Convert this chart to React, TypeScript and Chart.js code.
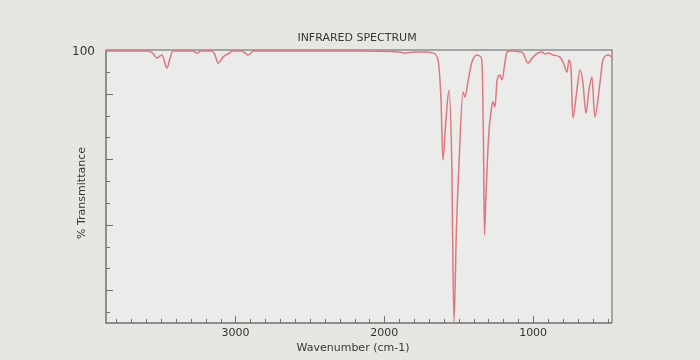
import React, { useEffect, useRef } from "react";
import { Chart, registerables } from "chart.js";

Chart.register(...registerables);

// Spectrum (wavenumber cm-1, % transmittance)
const wavenumbers = [
  3870, 3590, 3560, 3527, 3494, 3460, 3440, 3420, 3285, 3259, 3232, 3160, 3140, 3117, 3084, 3064, 3040, 3023,
  2960, 2935, 2916, 2895, 2882, 2200, 1900, 1860, 1800, 1720, 1673, 1639, 1619, 1606, 1586, 1565, 1547, 1532,
  1515, 1497, 1471, 1458, 1438, 1411, 1377, 1350, 1340, 1333, 1327, 1318, 1310, 1297, 1283, 1270, 1256, 1243,
  1223, 1209, 1189, 1176, 1155, 1135, 1088, 1068, 1035, 1001, 967, 940, 920, 900, 867, 820, 799, 772, 759, 746,
  733, 706, 685, 665, 645, 625, 605, 585, 551, 531, 497, 470,
];
const transmittance = [
  99.6, 99.6, 99.0, 97.1, 98.2, 93.4, 97.0, 99.6, 99.6, 98.9, 99.6, 99.6, 98.5, 95.2, 97.4, 98.2, 98.9, 99.6,
  99.6, 98.9, 98.2, 98.9, 99.6, 99.6, 99.3, 98.9, 99.3, 99.3, 98.9, 96.3, 81.7, 59.7, 74.4, 85.3, 59.7, 0.5,
  35.0, 59.7, 84.6, 82.8, 88.3, 95.6, 98.2, 97.4, 90.0, 63.0, 32.2, 45.0, 56.0, 70.0, 77.3, 81.0, 79.1, 88.3,
  90.8, 89.0, 95.6, 99.3, 99.6, 99.6, 99.3, 98.9, 95.2, 97.4, 98.9, 99.3, 98.5, 98.9, 98.2, 97.4, 95.6, 91.9, 96.3, 93.8,
  75.1, 85.3, 92.7, 87.9, 76.9, 85.3, 90.1, 75.5, 87.9, 96.3, 98.2, 97.4,
];

const xTickLabels = [3000, 2000, 1000];
const xTickMarks = [
  500, 600, 700, 800, 900, 1000, 1100, 1200, 1300, 1400, 1500, 1600, 1700, 1800, 1900, 2000, 2100, 2200,
  2300, 2400, 2500, 2600, 2700, 2800, 2900, 3000, 3100, 3200, 3300, 3400, 3500, 3600, 3700, 3800,
];
const yTickLabels = [100];
const yTickMarks = [4, 12, 20, 28, 36, 44, 52, 60, 68, 76, 84, 92];
const yMajorTicks = [12, 36, 60, 84];

const TITLE = "INFRARED SPECTRUM";
const X_TITLE = "Wavenumber (cm-1)";
const Y_TITLE = "% Transmittance";

const FONT = '"DejaVu Sans", Verdana, sans-serif';

const decorPlugin = {
  id: "decor",
  beforeDraw(chart: any) {
    const { ctx, chartArea: a } = chart;
    ctx.save();
    ctx.fillStyle = "#ebebe9";
    ctx.fillRect(a.left, a.top, a.right - a.left, a.bottom - a.top);
    ctx.restore();
  },
  beforeDatasetsDraw(chart: any) {
    const { ctx, chartArea: a, scales } = chart;
    const xs = scales.x;
    const ys = scales.y;
    ctx.save();
    // frame
    ctx.lineWidth = 1.5;
    ctx.strokeStyle = "#8e8e8e";
    ctx.beginPath();
    ctx.moveTo(a.left, a.top);
    ctx.lineTo(a.right, a.top);
    ctx.lineTo(a.right, a.bottom);
    ctx.stroke();
    ctx.strokeStyle = "#707070";
    ctx.beginPath();
    ctx.moveTo(a.left, a.top);
    ctx.lineTo(a.left, a.bottom);
    ctx.lineTo(a.right, a.bottom);
    ctx.stroke();
    // ticks
    ctx.lineWidth = 1;
    ctx.strokeStyle = "#707070";
    ctx.beginPath();
    xTickMarks.forEach((v) => {
      const px = Math.round(xs.getPixelForValue(v)) + 0.5;
      const len = v % 1000 === 0 ? 7 : 4;
      ctx.moveTo(px, a.bottom);
      ctx.lineTo(px, a.bottom - len);
    });
    yTickMarks.forEach((v) => {
      const py = Math.round(ys.getPixelForValue(v)) + 0.5;
      const len = yMajorTicks.includes(v) ? 7 : 4;
      ctx.moveTo(a.left, py);
      ctx.lineTo(a.left + len, py);
    });
    ctx.stroke();
    ctx.restore();
  },
  afterDraw(chart: any) {
    const { ctx } = chart;
    ctx.save();
    ctx.fillStyle = "#363636";
    ctx.textAlign = "center";
    ctx.textBaseline = "middle";
    ctx.font = `11px ${FONT}`;
    ctx.fillText(TITLE, 357, 38);
    ctx.fillText(X_TITLE, 353, 348);
    ctx.translate(82, 193);
    ctx.rotate(-Math.PI / 2);
    ctx.fillText(Y_TITLE, 0, 0);
    ctx.restore();
  },
};

export default function App() {
  const ref = useRef<HTMLCanvasElement | null>(null);
  useEffect(() => {
    if (!ref.current) return;
    const points = wavenumbers.map((w, i) => ({ x: w, y: transmittance[i] }));
    const chart = new Chart(ref.current, {
      type: "line",
      data: {
        datasets: [
          {
            data: points,
            borderColor: "#dc7880",
            borderWidth: 1.5,
            pointRadius: 0,
            cubicInterpolationMode: "monotone",
            fill: false,
          },
        ],
      },
      options: {
        animation: false,
        responsive: false,
        devicePixelRatio: 1,
        layout: { padding: { left: 0, top: 50, right: 88, bottom: 0 } },
        plugins: { legend: { display: false }, tooltip: { enabled: false }, title: { display: false } },
        scales: {
          x: {
            type: "linear",
            reverse: true,
            min: 470,
            max: 3870,
            afterBuildTicks: (s: any) => {
              s.ticks = xTickLabels.map((v) => ({ value: v }));
            },
            afterFit: (s: any) => {
              s.height = 37;
            },
            grid: { display: false, drawTicks: false },
            border: { display: false },
            ticks: {
              padding: 4,
              autoSkip: false,
              maxRotation: 0,
              color: "#333",
              font: { family: FONT, size: 11 },
              callback: (v: any) => String(v),
            },
          },
          y: {
            type: "linear",
            min: 0,
            max: 100,
            afterBuildTicks: (s: any) => {
              s.ticks = yTickLabels.map((v) => ({ value: v }));
            },
            afterFit: (s: any) => {
              s.width = 106;
            },
            grid: { display: false, drawTicks: false },
            border: { display: false },
            ticks: {
              padding: 11,
              labelOffset: 2,
              color: "#333",
              font: { family: FONT, size: 12 },
              callback: (v: any) => String(v),
            },
          },
        },
      },
      plugins: [decorPlugin],
    });
    return () => chart.destroy();
  }, []);
  return (
    <div style={{ position: "fixed", left: 0, top: 0, width: 700, height: 360, background: "#e6e6e3" }}>
      <canvas ref={ref} width={700} height={360} style={{ display: "block", width: 700, height: 360 }} />
    </div>
  );
}
